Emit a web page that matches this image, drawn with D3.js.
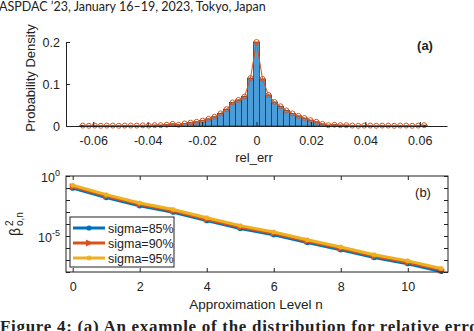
<!DOCTYPE html>
<html>
<head>
<meta charset="utf-8">
<script src="https://d3js.org/d3.v7.min.js"></script>
<style>
body { margin: 0; background: #fff; }
svg text { font-family: "Liberation Sans", Arial, sans-serif; fill: #222; }
</style>
</head>
<body>
<svg id="chart" width="474" height="331"></svg>
<script>
// (a) histogram of rel_err, bin centres are k * binWidth
var binWidth = 0.0022;
var binStart = -29;
var density = [
  0.001, 0.0005, 0.001, 0.0005, 0.001, 0.001, 0.0005, 0.001, 0.001, 0.001,
  0.0015, 0.001, 0.002, 0.002, 0.003, 0.005, 0.003, 0.006, 0.008, 0.010,
  0.013, 0.017, 0.022, 0.030, 0.040, 0.056, 0.062, 0.070, 0.114,
  0.200,
  0.112, 0.074, 0.057, 0.047, 0.037, 0.030, 0.024, 0.019, 0.014, 0.010,
  0.005, 0.002, 0.003, 0.002, 0.002,
  0.001, 0.0005, 0.001, 0.001, 0.0005, 0.001, 0.001, 0.0005, 0.001, 0.001, 0.0005, 0.001, 0.002
];
var relTicks = [-0.06, -0.04, -0.02, 0, 0.02, 0.04, 0.06];
var densTicks = [0, 0.1, 0.2];

// (b) beta^2 vs approximation level
var levels = [0, 1, 2, 3, 4, 5, 6, 7, 8, 9, 10, 11];
var sigma85 = [0.097, 0.016, 3.3e-3, 9.5e-4, 1.9e-4, 4.2e-5, 1.25e-5, 2.85e-6, 7.0e-7, 1.6e-7, 4.9e-8, 1.1e-8];
var sigma90 = [0.129, 0.0214, 4.37e-3, 1.26e-3, 2.5e-4, 5.6e-5, 1.66e-5, 3.8e-6, 9.3e-7, 2.1e-7, 6.5e-8, 1.5e-8];
var sigma95 = [0.168, 0.028, 5.7e-3, 1.64e-3, 3.3e-4, 7.3e-5, 2.15e-5, 4.9e-6, 1.2e-6, 2.7e-7, 8.5e-8, 1.95e-8];
var seriesNames = ["sigma=85%", "sigma=90%", "sigma=95%"];
var levelTicks = [0, 2, 4, 6, 8, 10];
var decadeTicks = [1e-8, 1e-7, 1e-6, 1e-5, 1e-4, 1e-3, 1e-2, 1e-1, 1e0];

var svg = d3.select("#chart");

// header + caption
svg.append("text").attr("x", -1).attr("y", 11)
  .style("font-family", "Lato, 'Open Sans', sans-serif").style("font-size", "12.5px")
  .text("ASPDAC \u201923, January 16\u201319, 2023, Tokyo, Japan");
svg.append("text").attr("x", 0).attr("y", 332)
  .style("font-family", "'Liberation Serif', serif").style("font-size", "17px").style("font-weight", "bold")
  .style("letter-spacing", "0.7px")
  .text("Figure 4: (a) An example of the distribution for relative error");

// ---------- panel (a)
var xa = d3.scaleLinear().domain([-0.07, 0.07]).range([66, 447]);
var ya = d3.scaleLinear().domain([0, 0.2]).range([126, 42]);

var bins = density.map(function(d, i) { return {c: (binStart + i) * binWidth, v: d}; });

var ga = svg.append("g");
ga.selectAll("rect").data(bins).enter().append("rect")
  .attr("x", function(d) { return xa(d.c - binWidth / 2); })
  .attr("width", function(d) { return xa(binWidth) - xa(0); })
  .attr("y", function(d) { return ya(d.v); })
  .attr("height", function(d) { return ya(0) - ya(d.v); })
  .attr("fill", "#4a9dd8").attr("stroke", "#1a2a3a").attr("stroke-width", 0.7);

ga.append("path").datum(bins)
  .attr("fill", "none").attr("stroke", "#d95319").attr("stroke-width", 1)
  .attr("d", d3.line().x(function(d) { return xa(d.c); }).y(function(d) { return ya(d.v); }));
ga.selectAll("circle").data(bins).enter().append("circle")
  .attr("cx", function(d) { return xa(d.c); }).attr("cy", function(d) { return ya(d.v); })
  .attr("r", 2.5).attr("fill", "none").attr("stroke", "#d95319").attr("stroke-width", 1);

var fmtA = function(d) { return d === 0 ? "0" : d.toFixed(2); };
var axA = svg.append("g").attr("transform", "translate(0,126)")
  .call(d3.axisBottom(xa).tickValues(relTicks).tickFormat(fmtA).tickSize(-4).tickSizeOuter(0).tickPadding(10));
var ayA = svg.append("g").attr("transform", "translate(66,0)")
  .call(d3.axisLeft(ya).tickValues(densTicks).tickFormat(function(d) { return d === 0 ? "0" : d.toFixed(1); })
    .tickSize(-4).tickSizeOuter(0).tickPadding(6));
[axA, ayA].forEach(function(a) {
  a.selectAll("text").style("font-size", "12.5px").attr("fill", "#222");
  a.selectAll("path, line").attr("stroke", "#222");
});

svg.append("text").attr("x", 254).attr("y", 162).attr("text-anchor", "middle")
  .style("font-size", "13px").text("rel_err");
svg.append("text").attr("transform", "translate(35,78) rotate(-90)").attr("text-anchor", "middle")
  .style("font-size", "13px").text("Probability Density");
svg.append("text").attr("x", 425).attr("y", 50).attr("text-anchor", "middle")
  .style("font-size", "13px").style("font-weight", "bold").text("(a)");

// ---------- panel (b)
var xb = d3.scaleLinear().domain([-0.2, 11.2]).range([66, 448]);
var yb = d3.scaleLog().domain([1e-8, 1]).range([272, 176]);

var colors = ["#0072bd", "#d95319", "#edb120"];
var series = [sigma85, sigma90, sigma95];
var lineB = d3.line().x(function(d, i) { return xb(levels[i]); }).y(function(d) { return yb(d); });

function marker(g, k, cx, cy) {
  if (k === 0) {
    g.append("circle").attr("cx", cx).attr("cy", cy).attr("r", 2.6).attr("fill", colors[0]);
  } else if (k === 1) {
    g.append("path").attr("d", "M" + (cx - 3) + "," + (cy - 3.5) + "L" + (cx + 4) + "," + cy + "L" + (cx - 3) + "," + (cy + 3.5) + "Z")
      .attr("fill", colors[1]);
  } else {
    g.append("path").attr("d", "M" + (cx - 2.5) + "," + cy + "H" + (cx + 2.5) + "M" + cx + "," + (cy - 2.5) + "V" + (cy + 2.5)
      + "M" + (cx - 1.8) + "," + (cy - 1.8) + "L" + (cx + 1.8) + "," + (cy + 1.8) + "M" + (cx - 1.8) + "," + (cy + 1.8) + "L" + (cx + 1.8) + "," + (cy - 1.8))
      .attr("stroke", colors[2]).attr("stroke-width", 1.2);
  }
}

var gb = svg.append("g");
series.forEach(function(s, k) {
  gb.append("path").datum(s).attr("fill", "none").attr("stroke", colors[k]).attr("stroke-width", 3).attr("d", lineB);
  s.forEach(function(v, i) { marker(gb, k, xb(levels[i]), yb(v)); });
});

// box + inside ticks
svg.append("rect").attr("x", 66).attr("y", 176).attr("width", 382).attr("height", 96)
  .attr("fill", "none").attr("stroke", "#222").attr("stroke-width", 1);
var bxB = svg.append("g").attr("transform", "translate(0,272)")
  .call(d3.axisBottom(xb).tickValues(levelTicks).tickFormat(d3.format("d")).tickSize(-4).tickSizeOuter(0).tickPadding(10));
var txB = svg.append("g").attr("transform", "translate(0,176)")
  .call(d3.axisTop(xb).tickValues(levelTicks).tickFormat("").tickSize(-4).tickSizeOuter(0));
var lyB = svg.append("g").attr("transform", "translate(66,0)")
  .call(d3.axisLeft(yb).tickValues(decadeTicks).tickFormat("").tickSize(-4).tickSizeOuter(0));
var ryB = svg.append("g").attr("transform", "translate(448,0)")
  .call(d3.axisRight(yb).tickValues(decadeTicks).tickFormat("").tickSize(-4).tickSizeOuter(0));
[bxB, txB, lyB, ryB].forEach(function(a) {
  a.select(".domain").remove();
  a.selectAll("line").attr("stroke", "#222");
  a.selectAll("text").style("font-size", "12.5px").attr("fill", "#222");
});

// y tick labels 10^0 and 10^-5
[[1e0, "0"], [1e-5, "-5"]].forEach(function(p) {
  var t = svg.append("text").attr("x", 60).attr("y", yb(p[0]) + 6).attr("text-anchor", "end").style("font-size", "12.5px");
  t.append("tspan").text("10");
  t.append("tspan").attr("dy", -6).style("font-size", "9px").text(p[1]);
});

svg.append("text").attr("x", 256).attr("y", 309).attr("text-anchor", "middle")
  .style("font-size", "13.5px").text("Approximation Level n");
svg.append("text").attr("x", 423).attr("y", 197).attr("text-anchor", "middle")
  .style("font-size", "13px").text("(b)");

var yl = svg.append("g").attr("transform", "translate(20,236) rotate(-90)");
yl.append("text").attr("x", 0).attr("y", 0).style("font-size", "14px").text("\u03b2");
yl.append("text").attr("x", 10).attr("y", -7).style("font-size", "10px").text("2");
yl.append("text").attr("x", 10).attr("y", 3).style("font-size", "10px").text("o,n");

// legend
var lg = svg.append("g");
lg.append("rect").attr("x", 70).attr("y", 217).attr("width", 104).attr("height", 50)
  .attr("fill", "#fff").attr("stroke", "#222").attr("stroke-width", 1);
seriesNames.forEach(function(n, k) {
  var cy = 228 + k * 15;
  lg.append("line").attr("x1", 73).attr("x2", 105).attr("y1", cy).attr("y2", cy)
    .attr("stroke", colors[k]).attr("stroke-width", 3);
  marker(lg, k, 89, cy);
  lg.append("text").attr("x", 108).attr("y", cy + 4.5).style("font-size", "12.5px").text(n);
});
</script>
</body>
</html>
